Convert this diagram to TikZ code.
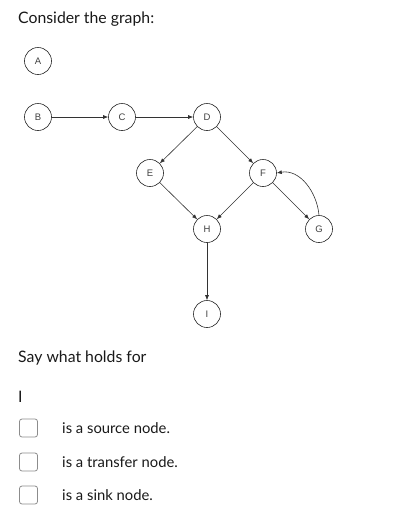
\documentclass[tikz,border=0pt]{standalone}
\usepackage{fontspec}
\setmainfont{Lato}
\newfontfamily\nodefont{Liberation Sans}
\usetikzlibrary{arrows.meta}
\tikzset{
  gnode/.style={circle,draw=black!85,line width=0.6pt,minimum size=27pt,inner sep=0pt,font=\nodefont\fontsize{9.5}{10}\selectfont,text=black!75},
  edge/.style={draw=black!80,line width=0.6pt,-{Latex[length=5pt,width=4pt]}},
  cbox/.style={draw=black!45,line width=0.8pt,rounded corners=2.5pt,minimum size=18pt,inner sep=0pt},
  qtext/.style={anchor=west,inner sep=0pt,font=\fontsize{15.8}{18}\selectfont,text=black!90},
  atext/.style={anchor=west,inner sep=0pt,font=\fontsize{14.8}{17}\selectfont,text=black!90}
}
\begin{document}
\begin{tikzpicture}[x=1pt,y=-1pt]
\useasboundingbox (0,0) rectangle (409,528);
\node[qtext] (title) at (18,19) {Consider the graph:};
\node[gnode] (A) at (38,61) {A};
\node[gnode] (B) at (38,117) {B};
\node[gnode] (C) at (122,117) {C};
\node[gnode] (D) at (207,117) {D};
\node[gnode] (E) at (150,173) {E};
\node[gnode] (F) at (263,173) {F};
\node[gnode] (H) at (207,229) {H};
\node[gnode] (G) at (319,229) {G};
\node[gnode] (I) at (207,314) {I};
\draw[edge] (B) -- (C);
\draw[edge] (C) -- (D);
\draw[edge] (D) -- (E);
\draw[edge] (D) -- (F);
\draw[edge] (E) -- (H);
\draw[edge] (F) -- (H);
\draw[edge] (F) -- (G);
\draw[edge] (H) -- (I);
\draw[edge] (G.north) to[out=95,in=10] (F.east);
\node[qtext] (say) at (18,358) {Say what holds for};
\node[qtext] (inode) at (18,397) {I};
\node[cbox] (c1) at (28.5,428) {};
\node[cbox] (c2) at (28.5,462) {};
\node[cbox] (c3) at (28.5,495) {};
\node[atext] (t1) at (62,428) {is a source node.};
\node[atext] (t2) at (62,462) {is a transfer node.};
\node[atext] (t3) at (62,495) {is a sink node.};
\end{tikzpicture}
\end{document}
